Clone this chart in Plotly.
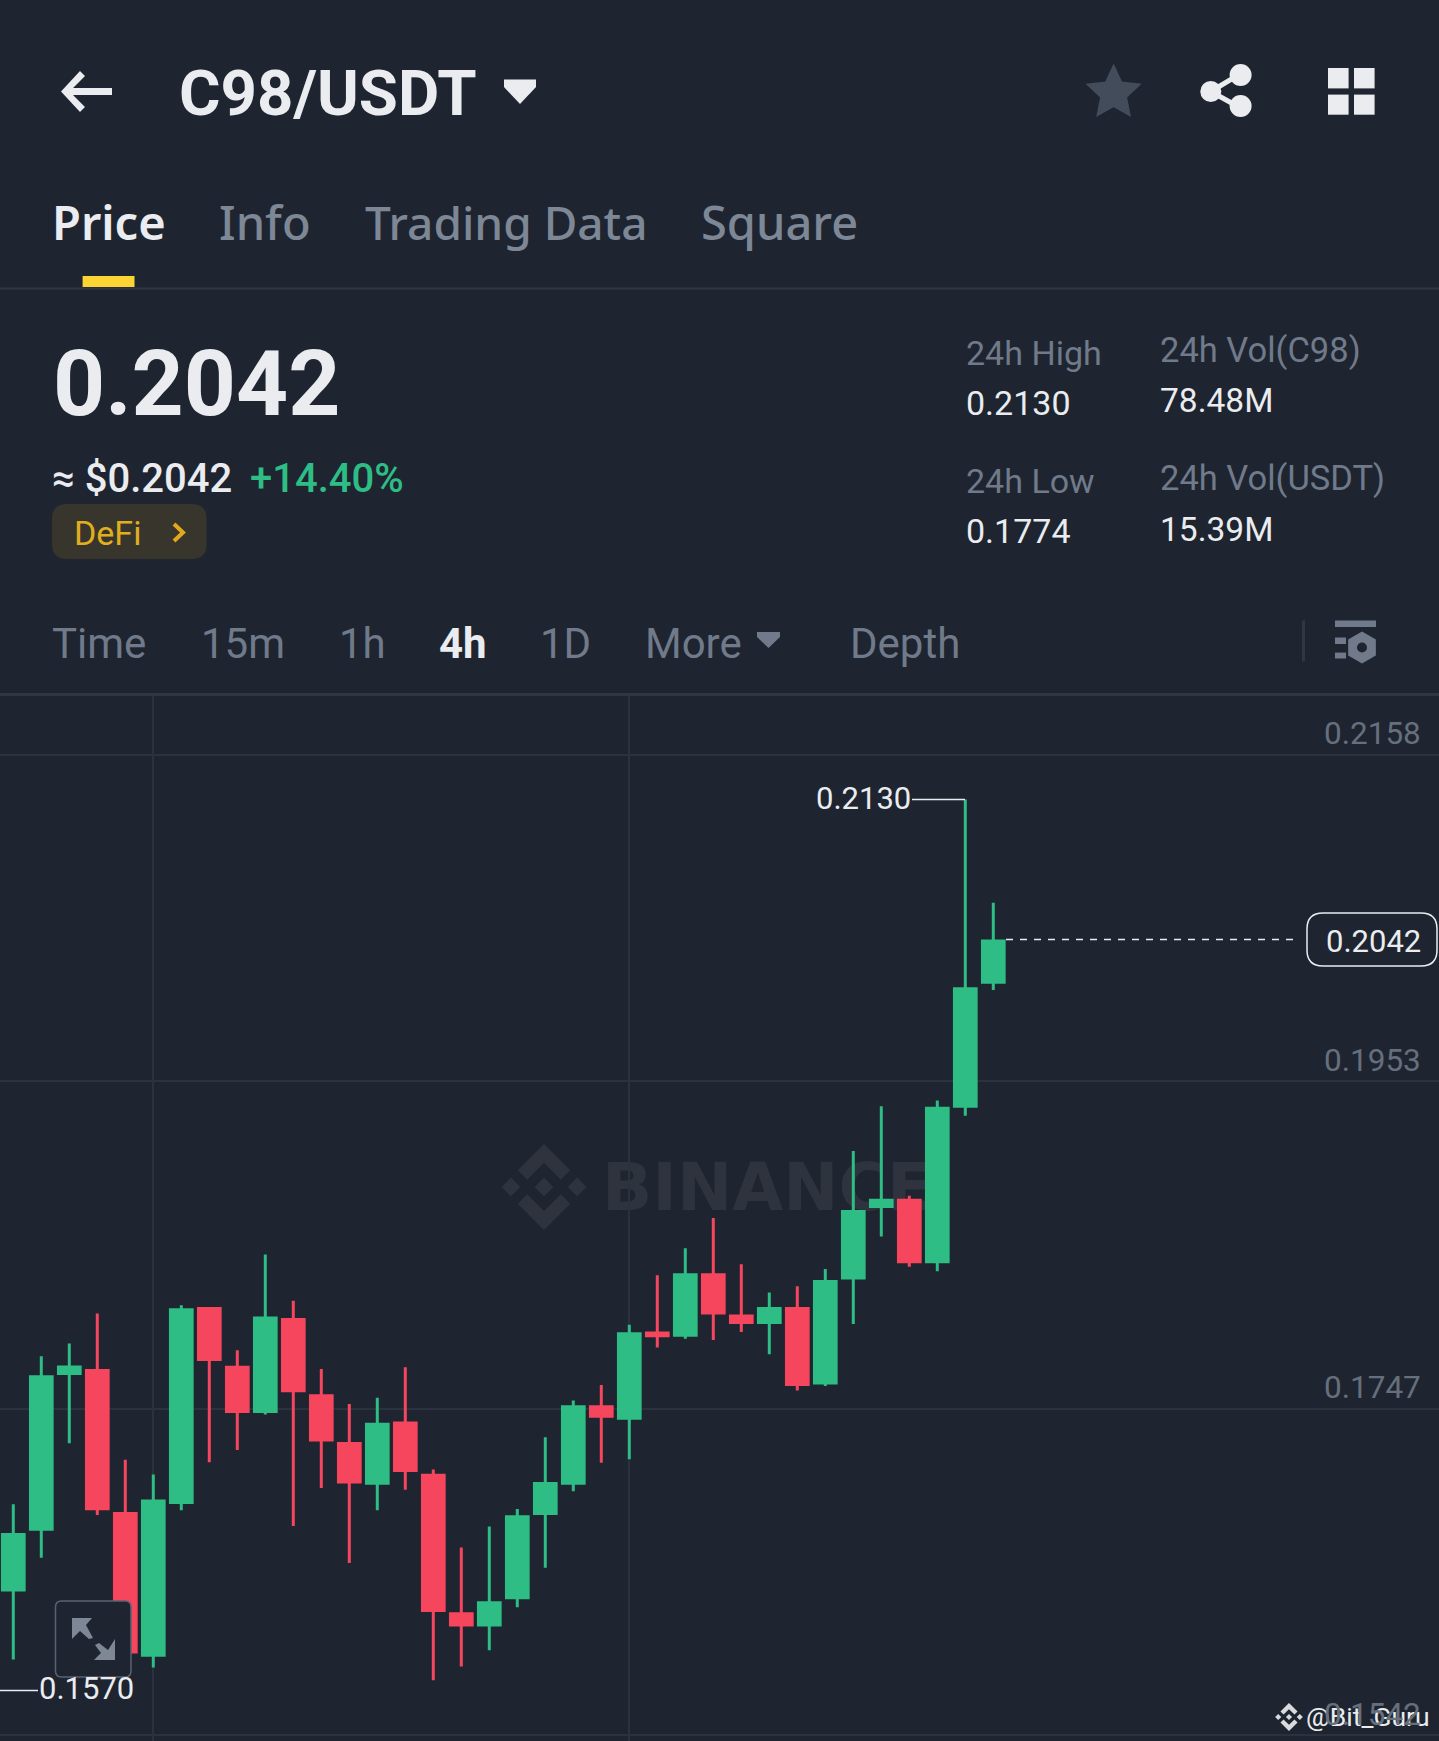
"""
C98/USDT, 4h candles, Binance mobile screen.
Usage : python3 plot.py
"""
import math
import plotly.graph_objects as go

W, H = 1439, 1741
BG = "#1e2530"
WHITE = "#eaecef"
GREY = "#7d8796"
DIM = "#707a8a"
GRID = "#2c323d"
UP = "#2ebd85"
DOWN = "#f6465d"

# prix
OPEN = [.16332, .16714, .17692, .17711, .16813, .15922, .16881, .18101, .17731,
        .17454, .18032, .17553, .17253, .17002, .17381, .17052, .16182, .16111,
        .16282, .16812, .17003, .17483, .17411, .17947, .17933, .18313, .18053,
        .18013, .18101, .17633, .18293, .18742, .18782, .18394, .19372, .20152]
HIGH = [.16870, .17800, .17881, .18069, .17150, .17058, .18121, .18110, .17839,
        .18440, .18150, .17720, .17501, .17540, .17731, .17089, .16599, .16730,
        .16841, .17291, .17522, .17620, .17999, .18310, .18479, .18670, .18379,
        .18201, .18240, .18349, .19091, .19372, .18810, .19409, .21300, .20652]
LOW = [.15894, .16534, .17254, .16803, .15933, .15844, .16833, .17134, .17212,
       .17434, .16733, .16972, .16501, .16833, .16961, .15764, .15850, .15952,
       .16223, .16472, .16952, .17132, .17153, .17855, .17911, .17903, .17953,
       .17813, .17585, .17614, .18004, .18553, .18364, .18335, .19313, .20103]
CLOSE = [.16681, .17672, .17733, .16842, .15942, .16891, .18093, .17781, .17454,
         .18041, .17584, .17274, .17011, .17373, .17083, .16202, .16111, .16251,
         .16792, .17001, .17483, .17424, .17942, .17929, .18313, .18073, .18013,
         .18101, .17623, .18271, .18711, .18782, .18394, .19360, .20111, .20411]
CANDLE_X = list(range(len(OPEN)))

PRICE_TICKS = [.2158, .1953, .1747, .1542]
PRICE_LABELS = ["0.2158", "0.1953", "0.1747", "0.1542"]
TIME_GRID = [5, 22]
LAST_PRICE = .2042
PEAK_PRICE = .2130
FLOOR_PRICE = .1570

TABS = ["Price", "Info", "Trading Data", "Square"]
INTERVALS = ["Time", "15m", "1h", "4h", "1D", "More", "Depth"]


def fx(x):
    return x / W


def fy(y):
    return 1 - y / H


def path(points, close=True):
    s = "M " + " L ".join(f"{fx(x):.5f},{fy(y):.5f}" for x, y in points)
    return s + (" Z" if close else "")


def round_rect(x0, y0, x1, y1, r):
    def p(x, y):
        return f"{fx(x):.5f},{fy(y):.5f}"
    return (f"M {p(x0 + r, y0)} L {p(x1 - r, y0)} Q {p(x1, y0)} {p(x1, y0 + r)} "
            f"L {p(x1, y1 - r)} Q {p(x1, y1)} {p(x1 - r, y1)} L {p(x0 + r, y1)} "
            f"Q {p(x0, y1)} {p(x0, y1 - r)} L {p(x0, y0 + r)} Q {p(x0, y0)} {p(x0 + r, y0)} Z")


def page_shape(d, fill=None, line=None, width=0, layer="above", **kw):
    return dict(type="path", xref="paper", yref="paper", path=d, layer=layer,
                fillcolor=fill or "rgba(0,0,0,0)",
                line=dict(color=line or "rgba(0,0,0,0)", width=width), **kw)


def circle(cx, cy, r, color):
    return dict(type="circle", xref="paper", yref="paper", x0=fx(cx - r), x1=fx(cx + r),
                y0=fy(cy - r), y1=fy(cy + r), fillcolor=color, line=dict(width=0))


def segment(x0, y0, x1, y1, color, width):
    return dict(type="line", xref="paper", yref="paper", x0=fx(x0), x1=fx(x1),
                y0=fy(y0), y1=fy(y1), line=dict(color=color, width=width))


def rect(x0, y0, x1, y1, color):
    return dict(type="rect", xref="paper", yref="paper", x0=fx(x0), x1=fx(x1),
                y0=fy(y0), y1=fy(y1), fillcolor=color, line=dict(width=0))


def logo(cx, cy, s, color, layer="above"):
    # losanges du logo, unités normalisées
    out = []
    for dx in (-.77, 0, .77):
        out.append([(dx, -.22), (dx + .22, 0), (dx, .22), (dx - .22, 0)])
    top = [(0, -1), (.61, -.39), (.39, -.17), (0, -.56), (-.39, -.17), (-.61, -.39)]
    out.append(top)
    out.append([(x, -y) for x, y in top])
    return [page_shape(path([(cx + x * s, cy + y * s) for x, y in pts]), fill=color, layer=layer)
            for pts in out]


def label(text, x, y, size, color=WHITE, weight=400, anchor="left", family="Roboto"):
    return dict(text=text, xref="paper", yref="paper", x=fx(x), y=fy(y), xanchor=anchor,
                yanchor="middle", showarrow=False, borderpad=0, borderwidth=0,
                font=dict(family=family, size=size, color=color, weight=weight))


fig = go.Figure(go.Candlestick(
    x=CANDLE_X, open=OPEN, high=HIGH, low=LOW, close=CLOSE,
    increasing=dict(line=dict(color=UP, width=3), fillcolor=UP),
    decreasing=dict(line=dict(color=DOWN, width=3), fillcolor=DOWN),
    whiskerwidth=0, hoverinfo="skip", showlegend=False,
))

shapes = []
# filigrane sous les bougies
shapes += logo(544, 1187, 43, "#2e333e", layer="below")
shapes.append(dict(type="rect", xref="paper", yref="paper", layer="below",
                   x0=fx(600), x1=fx(934), y0=fy(1207), y1=fy(1158),
                   line=dict(width=0), fillcolor="rgba(0,0,0,0)",
                   label=dict(text="BINANCE", textposition="middle center",
                              font=dict(family="DejaVu Sans", size=66, color="#2e333e", weight=700))))

# barre du haut
shapes.append(page_shape(path([(61, 91.5), (80, 71), (85, 76), (73, 88), (112, 88), (112, 95),
                               (73, 95), (85, 107), (80, 112)]), fill=WHITE))
shapes.append(page_shape(path([(504, 79.5), (536, 79.5), (536, 87), (520, 104), (504, 87)]), fill=WHITE))
star = []
for k in range(10):
    r = 26 if k % 2 == 0 else 12.5
    a = -math.pi / 2 + k * math.pi / 5
    star.append((1113.6 + r * math.cos(a), 93 + r * math.sin(a)))
shapes.append(page_shape(path(star), fill="#434c5b", line="#434c5b", width=3))
shapes.append(segment(1240.6, 73.7, 1210.8, 91.5, WHITE, 5))
shapes.append(segment(1240.6, 108, 1210.8, 91.5, WHITE, 5))
shapes += [circle(1240.6, 75, 11, WHITE), circle(1210.8, 91.5, 10.5, WHITE), circle(1240.6, 106, 11, WHITE)]
shapes += [rect(1328, 68, 1348.6, 88.4, WHITE), rect(1354, 68, 1374.6, 88.4, WHITE),
           rect(1328, 94.6, 1348.6, 114.7, WHITE), rect(1354, 94.6, 1374.6, 114.7, WHITE)]

# onglets
shapes.append(rect(82.6, 276, 134.5, 287, "#fcd535"))
shapes.append(segment(0, 288.5, W, 288.5, "#303642", 2))

# pastille DeFi
shapes.append(page_shape(round_rect(52, 504, 206.6, 559, 15), fill="#38362c"))
shapes.append(page_shape(path([(174, 524), (183, 532.5), (174, 541)], close=False), line="#e0a91c", width=4))

# ligne des intervalles
shapes.append(page_shape(path([(757, 632), (780, 632), (780, 637), (768.5, 648), (757, 637)]), fill=DIM))
shapes.append(segment(1303.5, 620.5, 1303.5, 661.6, "#303642", 3))
shapes += [rect(1335, 620.5, 1376, 627, DIM), rect(1335, 637.5, 1346, 644, DIM), rect(1335, 652.6, 1346, 658.5, DIM)]
hexa = [(1362 + 16 * math.sin(k * math.pi / 3), 647.5 + 16 * math.cos(k * math.pi / 3)) for k in range(6)]
shapes.append(page_shape(path(hexa), fill=DIM))
shapes.append(circle(1362, 647.5, 5, BG))
shapes.append(segment(0, 694.5, W, 694.5, "#303642", 3))

# repères sur le graphique
shapes.append(dict(type="line", xref="paper", yref="y", x0=fx(912), x1=fx(965), y0=PEAK_PRICE, y1=PEAK_PRICE,
                   line=dict(color=WHITE, width=1.5)))
shapes.append(dict(type="line", xref="paper", yref="y", x0=0, x1=fx(38), y0=FLOOR_PRICE, y1=FLOOR_PRICE,
                   line=dict(color=WHITE, width=1.5)))
shapes.append(dict(type="line", xref="paper", yref="y", x0=fx(1006), x1=fx(1294), y0=LAST_PRICE, y1=LAST_PRICE,
                   line=dict(color=WHITE, width=1.5, dash="7px,7px")))
shapes.append(page_shape(round_rect(1307, 913, 1437, 966, 16), fill=BG, line=WHITE, width=1.5))

# bouton plein écran
shapes.append(page_shape(round_rect(55.5, 1601, 131, 1677, 6), fill=BG, line="#5b6371", width=1.5))
shapes.append(page_shape(path([(72, 1618), (92, 1618), (86, 1625), (93, 1638), (89, 1639), (80, 1631),
                               (72, 1639)]), fill="#7d8796"))
shapes.append(page_shape(path([(115, 1660), (94, 1660), (101, 1653), (95, 1645), (99, 1643), (108, 1650),
                               (115, 1639)]), fill="#7d8796"))
# filigrane de l'auteur
shapes += logo(1289, 1717, 14, "#d8dadd")

TAB_FONT = "Noto Sans"
annotations = [
    label("C98/USDT", 179, 93, 63.5, weight=700),
    label(TABS[0], 52, 222, 47, weight=600, family=TAB_FONT),
    label(TABS[1], 219, 222, 47, color=GREY, weight=500, family=TAB_FONT),
    label(TABS[2], 365, 222, 46, color=GREY, weight=500, family=TAB_FONT),
    label(TABS[3], 701, 222, 47, color=GREY, weight=500, family=TAB_FONT),
    label("0.2042", 53, 384, 91, weight=700),
    label("≈ $0.2042", 52, 478, 40, weight=500),
    label("+14.40%", 250, 478, 40, color=UP, weight=500),
    label("DeFi", 74, 533, 34, color="#e0ae1f"),
    label("24h High", 966, 353, 34, color=DIM),
    label("0.2130", 966, 403, 34),
    label("24h Low", 966, 481, 34, color=DIM),
    label("0.1774", 966, 531, 34),
    label("24h Vol(C98)", 1160, 351, 34.5, color=DIM),
    label("78.48M", 1160, 401, 33.5),
    label("24h Vol(USDT)", 1160, 479, 34.5, color=DIM),
    label("15.39M", 1160, 529, 33.5),
    label("0.2130", 816, 798, 31),
    label("0.2042", 1421, 941, 31, anchor="right"),
    label("0.1570", 39, 1688, 31),
    label("@Bit_Guru", 1306, 1716, 26.5),
]
interval_x = [52, 201, 339, 439, 540, 645, 850]
for text, x in zip(INTERVALS, interval_x):
    on = text == "4h"
    annotations.append(label(text, x, 643, 42, color=WHITE if on else DIM, weight=700 if on else 400))

for value, text in zip(PRICE_TICKS, PRICE_LABELS):
    annotations.append(dict(text=text, xref="paper", yref="y", x=fx(1421), y=value, xanchor="right",
                            yanchor="middle", yshift=21, showarrow=False, borderpad=0, borderwidth=0,
                            font=dict(family="Roboto", size=31.5, color="#666f7c")))

fig.update_layout(
    width=W, height=H, margin=dict(l=0, r=0, t=0, b=0),
    paper_bgcolor=BG, plot_bgcolor=BG,
    boxgap=.225, boxgroupgap=0,
    shapes=shapes, annotations=annotations, dragmode=False,
    xaxis=dict(range=[-.475, 50.918], rangeslider=dict(visible=False), tickmode="array",
               tickvals=TIME_GRID, showticklabels=False, ticks="", showgrid=True,
               gridcolor=GRID, gridwidth=1.5, zeroline=False, showline=False, fixedrange=True),
    yaxis=dict(domain=[0, 1046 / H], range=[.153823, .219571], tickmode="array",
               tickvals=PRICE_TICKS, showticklabels=False, ticks="", showgrid=True,
               gridcolor=GRID, gridwidth=1.5, zeroline=False, showline=False, fixedrange=True),
)

fig.write_html("out.html", config=dict(displayModeBar=False),
               post_script="document.body.style.margin='0';document.body.style.background='#1e2530';")
